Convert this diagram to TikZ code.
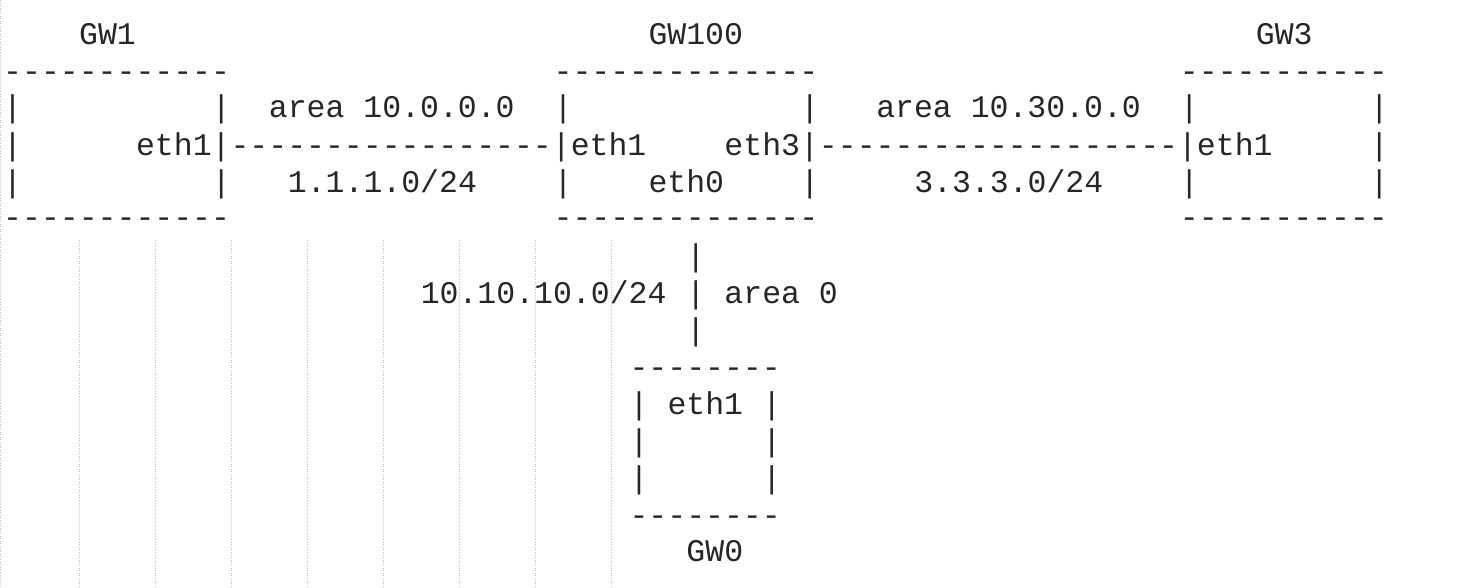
\documentclass[tikz,border=0pt]{standalone}
\usepackage{fontspec}
\setmonofont{Liberation Mono}
\begin{document}
\begin{tikzpicture}[x=1pt,y=-1pt,
  txt/.style={anchor=mid west,inner sep=0pt,font=\ttfamily\fontsize{31.5}{37}\selectfont,text=black!85},
  grid/.style={draw=black!25,dotted,line width=0.6pt}]
\useasboundingbox (0,0) rectangle (1479,587);
\newcommand{\pc}[4]{\node[txt] (#1) at ({3+18.98*#3},{#2+7}) {\strut\detokenize{#4}};}
\foreach \gx in {79,155,...,611} \draw[grid] (\gx,240) -- (\gx,587);
\draw[grid] (0.5,0) -- (0.5,587);
% row 0
\pc{gwa}{35}{4}{GW1}
\pc{gwb}{35}{34}{GW100}
\pc{gwc}{35}{66}{GW3}
% row 1
\pc{ta}{72}{0}{------------}
\pc{tb}{72}{29}{--------------}
\pc{tc}{72}{62}{-----------}
% row 2
\pc{r2a}{108}{0}{|}
\pc{r2b}{108}{11}{|}
\pc{r2c}{108}{14}{area 10.0.0.0}
\pc{r2d}{108}{29}{|}
\pc{r2e}{108}{42}{|}
\pc{r2f}{108}{46}{area 10.30.0.0}
\pc{r2g}{108}{62}{|}
\pc{r2h}{108}{72}{|}
% row 3
\pc{r3a}{146}{0}{|}
\pc{r3b}{146}{7}{eth1|-----------------|eth1}
\pc{r3c}{146}{38}{eth3|-------------------|eth1}
\pc{r3d}{146}{72}{|}
% row 4
\pc{r4a}{183}{0}{|}
\pc{r4b}{183}{11}{|}
\pc{r4c}{183}{15}{1.1.1.0/24}
\pc{r4d}{183}{29}{|}
\pc{r4e}{183}{34}{eth0}
\pc{r4f}{183}{42}{|}
\pc{r4g}{183}{48}{3.3.3.0/24}
\pc{r4h}{183}{62}{|}
\pc{r4i}{183}{72}{|}
% row 5
\pc{ba}{218}{0}{------------}
\pc{bb}{218}{29}{--------------}
\pc{bc}{218}{62}{-----------}
% link down
\pc{l1}{257}{36}{|}
\pc{l2}{294}{22}{10.10.10.0/24}
\pc{l3}{294}{36}{|}
\pc{l4}{294}{38}{area 0}
\pc{l5}{331}{36}{|}
% GW0 box
\pc{g0t}{368}{33}{--------}
\pc{g1a}{405}{33}{|}
\pc{g1b}{405}{35}{eth1}
\pc{g1c}{405}{40}{|}
\pc{g2a}{442}{33}{|}
\pc{g2b}{442}{40}{|}
\pc{g3a}{479}{33}{|}
\pc{g3b}{479}{40}{|}
\pc{g0b}{516}{33}{--------}
\pc{gwd}{552}{36}{GW0}
\end{tikzpicture}
\end{document}
